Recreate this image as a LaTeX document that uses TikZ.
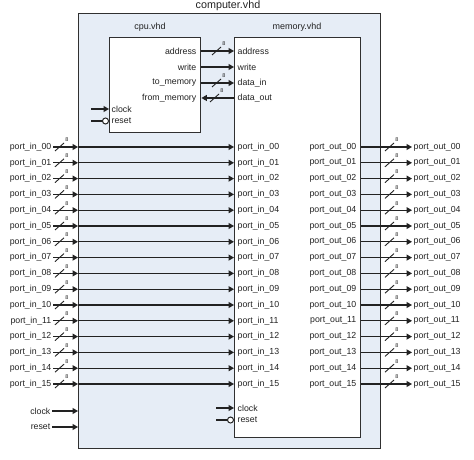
\documentclass[tikz,border=0pt]{standalone}
\usepackage{fontspec}
\setmainfont{Liberation Sans}
\usetikzlibrary{arrows.meta,calc}
\definecolor{outerfill}{HTML}{E6EDF6}
\definecolor{ink}{HTML}{222222}
\definecolor{boxline}{HTML}{303030}
\begin{document}
\begin{tikzpicture}[x=1bp,y=-1bp,
  lbl/.style={font=\fontsize{8.8}{10}\selectfont, text=ink, inner sep=1.5bp},
  ttl/.style={font=\fontsize{9}{10}\selectfont, text=ink, inner sep=0bp},
  outerbox/.style={draw=boxline, line width=1.4bp, fill=outerfill, inner sep=0bp, anchor=north west},
  blockbox/.style={draw=boxline, line width=1.4bp, fill=white, inner sep=0bp, anchor=north west},
  sig/.style={draw=ink, line width=1.2bp, -{Triangle[length=5.5bp,width=6bp]}},
  negsig/.style={draw=ink, line width=1.2bp, -{Circle[length=7bp,width=7bp,fill=white,line width=1bp]}},
  busmark/.pic={
    \draw[ink, line width=0.9bp] (-5,4) -- (4,-4);
    \node[font=\fontsize{5.5}{6}\selectfont, text=ink, inner sep=0bp] at (7,-7) {8};
  }
]
\useasboundingbox (0,0) rectangle (474,460);

% blocks
\node[outerbox, minimum width=302bp, minimum height=435bp] (comp) at (78,13) {};
\node[ttl, font=\fontsize{10.8}{12}\selectfont] (comptitle) at (228,6) {computer.vhd};
\node[blockbox, minimum width=91bp, minimum height=95bp] (cpu) at (109,37) {};
\node[ttl] (cputitle) at (150,27) {cpu.vhd};
\node[blockbox, minimum width=126bp, minimum height=400bp] (mem) at (234,37) {};
\node[ttl] (memtitle) at (297,27) {memory.vhd};

% cpu <-> memory
\node[lbl,anchor=east] (caddr) at (198,51) {address};
\node[lbl,anchor=east] (cwr) at (198,67) {write};
\node[lbl,anchor=east] (cto) at (198,83) {to\_memory};
\node[lbl,anchor=east] (cfrom) at (198,98) {from\_memory};
\node[lbl,anchor=west] (maddr) at (236,51) {address};
\node[lbl,anchor=west] (mwr) at (236,67) {write};
\node[lbl,anchor=west] (mdin) at (236,83) {data\_in};
\node[lbl,anchor=west] (mdout) at (236,98) {data\_out};
\draw[sig] (cpu.east |- caddr) -- (mem.west |- maddr);
\pic at (217,51) {busmark};
\draw[sig] (cpu.east |- cwr) -- (mem.west |- mwr);
\draw[sig] (cpu.east |- cto) -- (mem.west |- mdin);
\pic at (217,83) {busmark};
\draw[sig] (mem.west |- mdout) -- (cpu.east |- cfrom);
\pic at (215,98) {busmark};

% cpu clock/reset
\node[lbl,anchor=west] (cclk) at (110,109) {clock};
\node[lbl,anchor=west] (crst) at (110,121) {reset};
\coordinate (cclkin) at (91,109);
\coordinate (crstin) at (91,121);
\draw[sig] (cclkin) -- (cpu.west |- cclk);
\draw[negsig] (crstin) -- (cpu.west |- crst);

% memory clock/reset
\node[lbl,anchor=west] (mclk) at (236,408) {clock};
\node[lbl,anchor=west] (mrst) at (236,420) {reset};
\coordinate (mclkin) at (216,408);
\coordinate (mrstin) at (216,420);
\draw[sig] (mclkin) -- (mem.west |- mclk);
\draw[negsig] (mrstin) -- (mem.west |- mrst);

% ports
\foreach \i in {0,...,15}{
  \pgfmathsetmacro\yy{147+\i*15.8}
  \ifnum\i<10 \edef\nn{0\i}\else\edef\nn{\i}\fi
  \node[lbl,anchor=east] (pin\i) at (53,\yy) {port\_in\_\nn};
  \coordinate (cin\i) at (comp.west |- pin\i);
  \node[lbl,anchor=west] (minl\i) at (236,\yy) {port\_in\_\nn};
  \draw[sig] (pin\i.east) -- (cin\i);
  \draw[sig] (cin\i) -- (mem.west |- minl\i);
  \pic at (60,\yy) {busmark};
  \node[lbl,anchor=east] (moutl\i) at (358,\yy) {port\_out\_\nn};
  \node[lbl,anchor=west] (pout\i) at (412,\yy) {port\_out\_\nn};
  \draw[sig] (mem.east |- pout\i) -- (pout\i.west);
  \pic at (390,\yy) {busmark};
}

% top-level clock/reset
\node[lbl,anchor=east] (clk) at (52,411) {clock};
\node[lbl,anchor=east] (rst) at (52,427) {reset};
\draw[sig] (clk.east) -- (comp.west |- clk);
\draw[sig] (rst.east) -- (comp.west |- rst);
\end{tikzpicture}
\end{document}
